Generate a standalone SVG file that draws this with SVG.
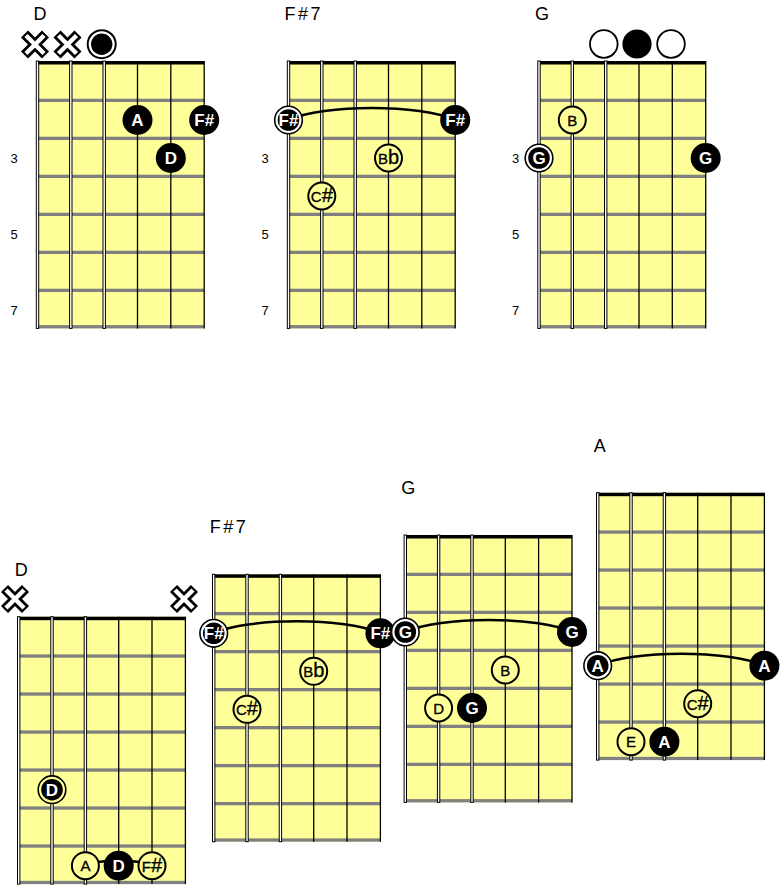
<svg xmlns="http://www.w3.org/2000/svg" xmlns:xlink="http://www.w3.org/1999/xlink" width="780" height="887" viewBox="0 0 780 887">
<style>
text{font-family:"Liberation Sans",Arial,sans-serif}
.title{font-size:18px;fill:#000}
.fn{font-size:13px;fill:#000;text-anchor:middle}
.board{fill:#FFFF99}
.nut{fill:#000}
.fret{fill:#808080}
.ts{fill:#fff;stroke:#000;stroke-width:1}
.tn{stroke:#000;stroke-width:1.3}
.yel{fill:#FFFF99;stroke:#000;stroke-width:2}
.rring{fill:#fff;stroke:#000;stroke-width:1.6}
.rringy{fill:#FFFF99;stroke:#000;stroke-width:1.6}
.lw{font-size:17px;font-weight:bold;fill:#fff;text-anchor:middle}
.lb{font-size:15px;fill:#000;stroke:#000;stroke-width:0.35;text-anchor:middle}
.acc{font-size:20px}
.barre{fill:none;stroke:#000;stroke-width:2.6}
.xb{stroke:#000;stroke-width:10;fill:none}
.xw{stroke:#fff;stroke-width:4.5;fill:none}
.open{fill:#fff;stroke:#000;stroke-width:1.8}
</style>
<defs>
<g id="fretboard">
<rect class="board" x="0" y="0" width="166.7" height="267.4"/>
<rect class="nut" x="0" y="0" width="166.7" height="3.5"/>
<rect class="fret" x="0" y="37.7" width="166.7" height="3.3"/>
<rect class="fret" x="0" y="75.7" width="166.7" height="3.3"/>
<rect class="fret" x="0" y="113.7" width="166.7" height="3.3"/>
<rect class="fret" x="0" y="151.7" width="166.7" height="3.3"/>
<rect class="fret" x="0" y="189.7" width="166.7" height="3.3"/>
<rect class="fret" x="0" y="227.7" width="166.7" height="3.3"/>
<rect class="fret" x="0" y="264.1" width="166.7" height="3.3"/>
<rect class="ts" x="-1.2" y="0" width="2.4" height="267.4"/>
<rect class="ts" x="32.1" y="0" width="2.4" height="267.4"/>
<rect class="ts" x="65.5" y="0" width="2.4" height="267.4"/>
<line class="tn" x1="100" y1="0" x2="100" y2="267.4"/>
<line class="tn" x1="133.3" y1="0" x2="133.3" y2="267.4"/>
<line class="tn" x1="166.7" y1="0" x2="166.7" y2="267.4"/>
</g>
<g id="xmark">
<path class="xb" d="M-10.5,-10.5L10.5,10.5M-10.5,10.5L10.5,-10.5"/>
<path class="xw" d="M-9,-9L9,9M-9,9L9,-9"/>
</g>
<g id="rootopen"><circle r="14" fill="#fff" stroke="#000" stroke-width="2"/><circle r="10.7" fill="#000"/></g>
<circle id="openc" class="open" r="13.8"/>
<circle id="filledc" r="14.6" fill="#000"/>
<g id="root"><circle class="rring" r="13.8"/><circle r="10.8" fill="#000"/></g>
<g id="rooty"><circle class="rringy" r="13.8"/><circle r="10.8" fill="#000"/></g>
<circle id="bn" r="15" fill="#000"/>
<circle id="yn" class="yel" r="13.5"/>
</defs>

<g id="chord-d-top" transform="translate(37.5,61)">
<use xlink:href="#fretboard"/>
<text class="title" x="-4" y="-41">D</text>
<text class="fn" x="-23.5" y="101.5">3</text>
<text class="fn" x="-23.5" y="177.5">5</text>
<text class="fn" x="-23.5" y="253.5">7</text>
<use xlink:href="#xmark" x="-2.5" y="-16.5"/>
<use xlink:href="#xmark" x="30" y="-16.5"/>
<use xlink:href="#rootopen" x="64.2" y="-16.8"/>
</g>

<g id="chord-f7-top" transform="translate(288.5,61)">
<use xlink:href="#fretboard"/>
<text class="title" x="-4" y="-41" letter-spacing="2.5">F#7</text>
<text class="fn" x="-23.5" y="101.5">3</text>
<text class="fn" x="-23.5" y="177.5">5</text>
<text class="fn" x="-23.5" y="253.5">7</text>
</g>

<g id="chord-g-top" transform="translate(539,61)">
<use xlink:href="#fretboard"/>
<text class="title" x="-4" y="-41">G</text>
<text class="fn" x="-23.5" y="101.5">3</text>
<text class="fn" x="-23.5" y="177.5">5</text>
<text class="fn" x="-23.5" y="253.5">7</text>
<use xlink:href="#openc" x="64.8" y="-17"/>
<use xlink:href="#filledc" x="98" y="-17"/>
<use xlink:href="#openc" x="132" y="-17"/>
</g>

<g id="chord-d-bottom" transform="translate(18.7,616.7)">
<use xlink:href="#fretboard"/>
<text class="title" x="-4" y="-41">D</text>
<use xlink:href="#xmark" x="-3.7" y="-17.7"/>
<use xlink:href="#xmark" x="165.3" y="-17.7"/>
</g>

<g id="chord-f7-bottom" transform="translate(213.7,574.3)">
<use xlink:href="#fretboard"/>
<text class="title" x="-4" y="-41" letter-spacing="2.5">F#7</text>
</g>

<g id="chord-g-bottom" transform="translate(405.3,535)">
<use xlink:href="#fretboard"/>
<text class="title" x="-4" y="-41">G</text>
</g>

<g id="chord-a-bottom" transform="translate(597.7,492.7)">
<use xlink:href="#fretboard"/>
<text class="title" x="-4" y="-41">A</text>
</g>

<g id="connectors">
<path class="barre" d="M288.5,120 C323.5,104 420.2,104 455.2,120"/>
<path class="barre" d="M213.7,633.3 C248.7,617.3 345.4,617.3 380.4,633.3"/>
<path class="barre" d="M405.3,632 C440.3,616 537,616 572,632"/>
<path class="barre" d="M597.7,665.7 C632.7,649.7 729.4,649.7 764.4,665.7"/>
<path class="barre" d="M85.4,865.7 C97,859 140,859 152,865.7"/>
</g>

<g id="n-dtop-a" transform="translate(137.5,120)"><use xlink:href="#bn"/><text class="lw" y="6">A</text></g>
<g id="n-dtop-fs" transform="translate(204.2,120)"><use xlink:href="#bn"/><text class="lw" y="6">F#</text></g>
<g id="n-dtop-d" transform="translate(170.8,158)"><use xlink:href="#bn"/><text class="lw" y="6">D</text></g>

<g id="n-f7top-fs1" transform="translate(288.5,120)"><use xlink:href="#root"/><text class="lw" y="6">F#</text></g>
<g id="n-f7top-fs6" transform="translate(455.2,120)"><use xlink:href="#bn"/><text class="lw" y="6">F#</text></g>
<g id="n-f7top-bb" transform="translate(388.5,158)"><use xlink:href="#yn"/><text class="lb" y="6">B<tspan class="acc">b</tspan></text></g>
<g id="n-f7top-cs" transform="translate(321.8,196)"><use xlink:href="#yn"/><text class="lb" y="6">C<tspan class="acc">#</tspan></text></g>

<g id="n-gtop-b" transform="translate(572.3,120)"><use xlink:href="#yn"/><text class="lb" y="5.5">B</text></g>
<g id="n-gtop-g1" transform="translate(539,158)"><use xlink:href="#root"/><text class="lw" y="6">G</text></g>
<g id="n-gtop-g6" transform="translate(705.7,158)"><use xlink:href="#bn"/><text class="lw" y="6">G</text></g>

<g id="n-dbot-d" transform="translate(52,789.7)"><use xlink:href="#rooty"/><text class="lw" y="6">D</text></g>
<g id="n-dbot-a" transform="translate(85.4,865.7)"><use xlink:href="#yn"/><text class="lb" y="5.5">A</text></g>
<g id="n-dbot-d2" transform="translate(118.7,865.7)"><use xlink:href="#bn"/><text class="lw" y="6">D</text></g>
<g id="n-dbot-fs" transform="translate(152,865.7)"><use xlink:href="#yn"/><text class="lb" y="6">F<tspan class="acc">#</tspan></text></g>

<g id="n-f7bot-fs1" transform="translate(213.7,633.3)"><use xlink:href="#root"/><text class="lw" y="6">F#</text></g>
<g id="n-f7bot-fs6" transform="translate(380.4,633.3)"><use xlink:href="#bn"/><text class="lw" y="6">F#</text></g>
<g id="n-f7bot-bb" transform="translate(313.7,671.3)"><use xlink:href="#yn"/><text class="lb" y="6">B<tspan class="acc">b</tspan></text></g>
<g id="n-f7bot-cs" transform="translate(247,709.3)"><use xlink:href="#yn"/><text class="lb" y="6">C<tspan class="acc">#</tspan></text></g>

<g id="n-gbot-g1" transform="translate(405.3,632)"><use xlink:href="#root"/><text class="lw" y="6">G</text></g>
<g id="n-gbot-g6" transform="translate(572,632)"><use xlink:href="#bn"/><text class="lw" y="6">G</text></g>
<g id="n-gbot-b" transform="translate(505.3,670)"><use xlink:href="#yn"/><text class="lb" y="5.5">B</text></g>
<g id="n-gbot-d" transform="translate(438.6,708)"><use xlink:href="#yn"/><text class="lb" y="5.5">D</text></g>
<g id="n-gbot-g3" transform="translate(472,708)"><use xlink:href="#bn"/><text class="lw" y="6">G</text></g>

<g id="n-abot-a1" transform="translate(597.7,665.7)"><use xlink:href="#root"/><text class="lw" y="6">A</text></g>
<g id="n-abot-a6" transform="translate(764.4,665.7)"><use xlink:href="#bn"/><text class="lw" y="6">A</text></g>
<g id="n-abot-cs" transform="translate(697.7,703.7)"><use xlink:href="#yn"/><text class="lb" y="6">C<tspan class="acc">#</tspan></text></g>
<g id="n-abot-e" transform="translate(631,741.7)"><use xlink:href="#yn"/><text class="lb" y="5.5">E</text></g>
<g id="n-abot-a3" transform="translate(664.4,741.7)"><use xlink:href="#bn"/><text class="lw" y="6">A</text></g>
</svg>
